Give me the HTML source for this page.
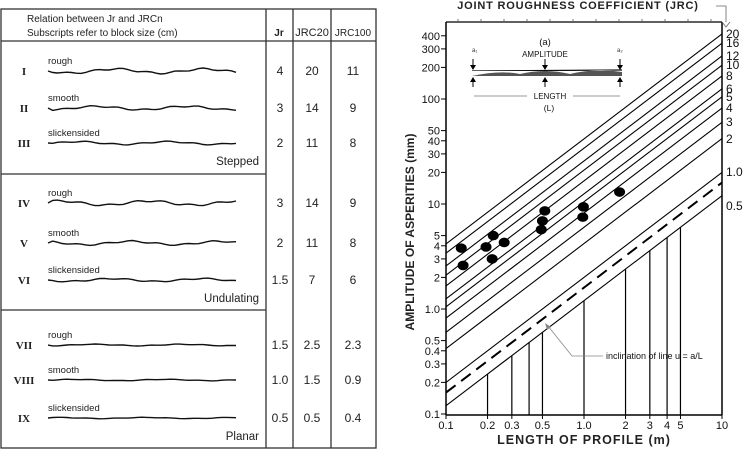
<!DOCTYPE html>
<html><head><meta charset="utf-8"><style>
body{margin:0;background:#fff;}
svg{display:block;font-family:"Liberation Sans",Arial,sans-serif;}
</style></head><body>
<svg id="fig" width="746" height="450" viewBox="0 0 746 450">
<g id="table" fill="#222" stroke="none"></g>
<g id="chart"></g>
</svg>
<script>
// ---- chart data ----
const xTicks = [0.1,0.2,0.3,0.5,1.0,2,3,4,5,10];
const xTickLabels = ["0.1","0.2","0.3","0.5","1.0","2","3","4","5","10"];
const xVerticals = [0.2,0.3,0.4,0.5,1,2,3,4,5];
const yTicks = [0.1,0.2,0.3,0.4,0.5,1,2,3,4,5,10,20,30,40,50,100,200,300,400];
const yTickLabels = ["0.1","0.2","0.3","0.4","0.5","1.0","2","3","4","5","10","20","30","40","50","100","200","300","400"];
const jrcLabels = ["20","16","12","10","8","6","5","4","3","2","1.0","0.5"];
const jrcAmpAt10m = [417,340,257,210,166,125,105,82,60,42,20,12];
const dashedAmpAt10m = [16];
const pointsL = [0.129,0.133,0.195,0.22,0.216,0.264,0.49,0.50,0.52,0.99,0.98,1.81];
const pointsA = [3.8,2.6,3.9,5.0,3.0,4.3,5.7,6.9,8.6,9.4,7.5,13.0];
const jrcLabelY = [34,43,56,65,76,89,97,108,122,139,172,206];

const tableRows = ["I","II","III","IV","V","VI","VII","VIII","IX"];
const tableKinds = ["rough","smooth","slickensided","rough","smooth","slickensided","rough","smooth","slickensided"];
const jrVals = ["4","3","2","3","2","1.5","1.5","1.0","0.5"];
const jrc20Vals = ["20","14","11","14","11","7","2.5","1.5","0.5"];
const jrc100Vals = ["11","9","8","9","8","6","2.3","0.9","0.4"];

const NS="http://www.w3.org/2000/svg";
function mk(parent,tag,attrs,text){const e=document.createElementNS(NS,tag);for(const k in attrs)e.setAttribute(k,attrs[k]);if(text!==undefined)e.textContent=text;parent.appendChild(e);return e;}

const X0=446,X1=722,YP=309,DY=105;
function sx(L){return X0+(Math.log10(L)+1)*(X1-X0)/2;}
function sy(a){return YP-Math.log10(a)*DY;}
const YB=415,YT=22;

const chart=document.getElementById('chart');
let e;
e=mk(chart,'line',{x1:X0,y1:YT,x2:X0,y2:YB,stroke:'#000','stroke-width':1.5});


e=mk(chart,'line',{x1:X0,y1:YB,x2:X1,y2:YB,stroke:'#000','stroke-width':1.5});


e=mk(chart,'line',{x1:X0,y1:YT,x2:X1,y2:YT,stroke:'#000','stroke-width':1.2});


for(let i=0;i<12;i++){const tx=X0+12+i*23;mk(chart,'line',{x1:tx,y1:YT-3,x2:tx,y2:YT,stroke:'#555','stroke-width':0.8});}
e=mk(chart,'line',{x1:X1,y1:YT,x2:X1,y2:YB,stroke:'#000','stroke-width':1.5});



const clip=mk(chart,'clipPath',{id:'pc'});
mk(clip,'rect',{x:X0,y:YT,width:X1-X0,height:YB-YT});
const lines=mk(chart,'g',{'clip-path':'url(#pc)'});

xTicks.forEach((v,i)=>{
  mk(chart,'line',{x1:sx(v),y1:YB,x2:sx(v),y2:YB+4,stroke:'#000'});
  e=mk(chart,'text',{x:sx(v),y:YB+14,'font-size':11,'text-anchor':'middle',fill:'#111'},xTickLabels[i]);
  
  
});
yTicks.forEach((v,i)=>{
  mk(chart,'line',{x1:X0-5,y1:sy(v),x2:X0,y2:sy(v),stroke:'#000'});
  e=mk(chart,'text',{x:X0-6,y:sy(v)+4,'font-size':11,'text-anchor':'end',fill:'#111'},yTickLabels[i]);
  
  
});

jrcAmpAt10m.forEach((a,i)=>{
  const a0=a/100;
  e=mk(lines,'line',{x1:sx(0.1),y1:sy(a0),x2:sx(10),y2:sy(a),stroke:'#000','stroke-width':1.1});
  
  
  e=mk(chart,'text',{x:X1+4,y:jrcLabelY[i]+4,'font-size':12,fill:'#111'},jrcLabels[i]);
  
  
});
dashedAmpAt10m.forEach(a=>{
  e=mk(lines,'line',{x1:sx(0.1),y1:sy(a/100),x2:sx(10),y2:sy(a),stroke:'#000','stroke-width':2,'stroke-dasharray':'12,7'});
  
  
});
const low=jrcAmpAt10m[jrcAmpAt10m.length-1];
xVerticals.forEach(v=>{
  const a=low*v/10;
  e=mk(chart,'line',{x1:sx(v),y1:YB,x2:sx(v),y2:sy(a),stroke:'#000','stroke-width':1.2});
  
  
});
pointsL.forEach((L,i)=>{
  e=mk(chart,'ellipse',{cx:sx(L),cy:sy(pointsA[i]),rx:5.5,ry:4.8,fill:'#000'});
  
  
});

e=mk(chart,'text',{x:584,y:444,'font-size':12.5,'text-anchor':'middle','font-weight':'bold','letter-spacing':'1',fill:'#222'},'LENGTH OF PROFILE  (m)');


e=mk(chart,'text',{x:0,y:0,'font-size':12,'text-anchor':'middle','font-weight':'bold',fill:'#222',transform:'translate(414,232) rotate(-90)'},'AMPLITUDE OF ASPERITIES  (mm)');


e=mk(chart,'text',{x:578,y:9,'font-size':11,'text-anchor':'middle','font-weight':'bold','letter-spacing':'0.8',fill:'#222'},'JOINT ROUGHNESS COEFFICIENT  (JRC)');


mk(chart,'path',{d:'M716 6 H726 V22',fill:'none',stroke:'#666','stroke-width':0.8});
mk(chart,'path',{d:'M722 22 L726 27 L730 22',fill:'none',stroke:'#666','stroke-width':0.8});

const ins=mk(chart,'g',{});


mk(ins,'text',{x:545,y:45,'font-size':9.5,'text-anchor':'middle',fill:'#111'},'(a)');
mk(ins,'text',{x:545,y:57,'font-size':8,'text-anchor':'middle',fill:'#111'},'AMPLITUDE');
mk(ins,'text',{x:472,y:52,'font-size':6,fill:'#333'},'a₁');
mk(ins,'text',{x:617,y:52,'font-size':6,fill:'#333'},'a₂');
mk(ins,'rect',{x:472,y:71,width:150,height:5,fill:'#555'});
mk(ins,'path',{d:'M472 71 L622 70',stroke:'#111','stroke-width':1.2,fill:'none'});
mk(ins,'path',{d:'M472 76 Q500 70 520 74 Q545 68 570 74 Q595 68 622 72 L622 71 L472 71 Z',fill:'#fff'});
[473,545,620].forEach(x=>{
  mk(ins,'line',{x1:x,y1:59,x2:x,y2:69,stroke:'#000'});
  mk(ins,'path',{d:`M${x-3} 65 L${x} 70 L${x+3} 65 Z`,fill:'#000'});
  mk(ins,'line',{x1:x,y1:79,x2:x,y2:87,stroke:'#000'});
  mk(ins,'path',{d:`M${x-3} 82 L${x} 77 L${x+3} 82 Z`,fill:'#000'});
});
mk(ins,'line',{x1:474,y1:96,x2:527,y2:96,stroke:'#777','stroke-width':0.7});
mk(ins,'line',{x1:573,y1:96,x2:620,y2:96,stroke:'#777','stroke-width':0.7});
mk(ins,'text',{x:550,y:99,'font-size':8,'text-anchor':'middle',fill:'#111'},'LENGTH');
mk(ins,'text',{x:549,y:111,'font-size':8.5,'text-anchor':'middle',fill:'#111'},'(L)');

e=mk(chart,'text',{x:606,y:359,'font-size':9,fill:'#111'},'inclination of line    u = a/L');


mk(chart,'path',{d:'M603 356 H572 L548 326',fill:'none',stroke:'#888','stroke-width':0.8});
mk(chart,'path',{d:'M545 323 L547 330 L551 327 Z',fill:'#888'});

// ---- table ----
const T=document.getElementById('table');
const S={stroke:'#333','stroke-width':1.3,fill:'none'};
mk(T,'rect',Object.assign({x:1,y:9,width:375,height:439},S));
[266,293,331].forEach(x=>mk(T,'line',Object.assign({x1:x,y1:9,x2:x,y2:448},S)));
mk(T,'line',Object.assign({x1:1,y1:41,x2:376,y2:41},S));
mk(T,'line',Object.assign({x1:1,y1:174,x2:266,y2:174},S));
mk(T,'line',Object.assign({x1:1,y1:310,x2:266,y2:310},S));
e=mk(T,'text',{x:27,y:22,'font-size':10},'Relation between  Jr  and JRCn');


mk(T,'text',{x:27,y:36,'font-size':10},'Subscripts refer to block size (cm)');
mk(T,'text',{x:279,y:36,'font-size':10,'text-anchor':'middle','font-weight':'bold'},'Jr');
mk(T,'text',{x:312,y:36,'font-size':11,'text-anchor':'middle'},'JRC20');
mk(T,'text',{x:353,y:36,'font-size':10,'text-anchor':'middle'},'JRC100');
const rowY=[71,108,143,203,243,280,345,380,418];
const amp=[3,2.5,2,3,2.5,2,1,0.9,0.8];
rowY.forEach((y,i)=>{
  e=mk(T,'text',{x:24,y:y+4,'font-size':11,'font-weight':'bold','font-family':'Liberation Serif,serif','text-anchor':'middle'},tableRows[i]);
  
  
  mk(T,'text',{x:48,y:y-7,'font-size':9.5},tableKinds[i]);
  let d=`M48 ${y}`;
  for(let k=1;k<=40;k++){const xx=48+k*4.7;const yy=y+amp[i]*(0.7*Math.sin(k*0.33+i*1.3)+0.3*Math.sin(k*1.1+i));d+=` L${xx.toFixed(1)} ${yy.toFixed(1)}`;}
  e=mk(T,'path',{d,fill:'none',stroke:'#111','stroke-width':1.4});
  
  
  mk(T,'text',{x:280,y:y+4,'font-size':12,'text-anchor':'middle'},jrVals[i]);
  mk(T,'text',{x:312,y:y+4,'font-size':12,'text-anchor':'middle'},jrc20Vals[i]);
  mk(T,'text',{x:353,y:y+4,'font-size':12,'text-anchor':'middle'},jrc100Vals[i]);
});
[['Stepped',165],['Undulating',302],['Planar',440]].forEach(([t,y])=>{
  e=mk(T,'text',{x:259,y,'font-size':11.5,'text-anchor':'end'},t);
  
  
});
</script>
</body></html>
